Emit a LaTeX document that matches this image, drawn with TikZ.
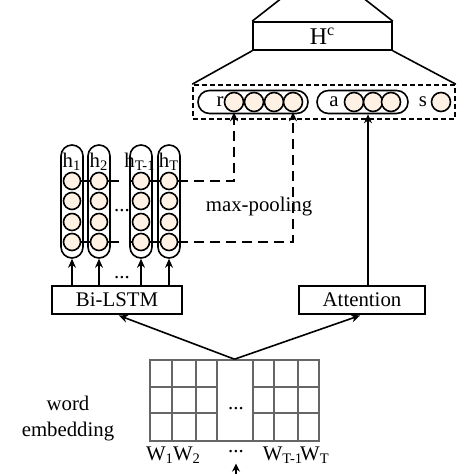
\documentclass[tikz,border=0pt]{standalone}
\usepackage{fontspec}
\setmainfont{Liberation Serif}
\usetikzlibrary{arrows.meta,positioning}
\tikzstyle{box} = [rectangle, draw=black, line width=0.8pt, minimum height=14pt, inner sep=0pt, text centered]
\tikzstyle{poolbox} = [rectangle, draw=black, line width=0.8pt, dash pattern=on 2.5pt off 1.5pt, inner sep=0pt]
\tikzstyle{vec} = [rectangle, rounded corners=5.7pt, draw=black, line width=0.8pt, minimum height=11.5pt, inner sep=0pt]
\tikzstyle{col} = [rectangle, rounded corners=5.5pt, draw=black, line width=0.8pt, minimum width=11pt, minimum height=56.5pt, inner sep=0pt]
\tikzstyle{cell} = [circle, draw=black, line width=0.8pt, fill=orange!10, minimum size=8.5pt, inner sep=0pt]
\tikzstyle{cellB} = [cell, minimum size=9.5pt]
\tikzstyle{lbl} = [inner sep=0pt]
\tikzstyle{plain} = [line width=0.8pt]
\tikzstyle{arrow} = [line width=0.8pt, -{Stealth[open, length=4.5pt, width=4pt]}]
\tikzstyle{dashline} = [dash pattern=on 5pt off 3pt]
\tikzstyle{gridline} = [draw=black!60, line width=0.8pt]

\begin{document}
\begin{tikzpicture}[x=0.5pt, y=-0.5pt, font=\fontsize{10.4}{13}\selectfont]
        \useasboundingbox (0,0) rectangle (474,474);
        \clip (0,0) rectangle (474,474);

        \node (hc) [box, minimum width=69.5pt, font=\fontsize{12}{13}\selectfont] at (322.5,36) {H\textsuperscript{c}};
        \node (pool) [poolbox, minimum width=131pt, minimum height=17pt] at (324,102) {};
        \coordinate (topL) at (292,-10);
        \coordinate (topR) at (353,-10);
        \draw [plain] (hc.north west) -- (topL);
        \draw [plain] (hc.north east) -- (topR);
        \draw [plain] (hc.south west) -- (pool.north west);
        \draw [plain] (hc.south east) -- (pool.north east);

        \node (rvec) [vec, minimum width=55pt] at (253,102) {};
        \node (avec) [vec, minimum width=45.5pt] at (362.5,102) {};
        \node (rl) [lbl] at (220,102) {r};
        \node (al) [lbl] at (334,102) {a};
        \node (sl) [lbl] at (423,102) {s};
        \foreach \i/\x in {1/234,2/254,3/274,4/293}
            \node (r\i) [cellB] at (\x,102) {};
        \foreach \i/\x in {1/354,2/373,3/391}
            \node (a\i) [cellB] at (\x,102) {};
        \node (s1) [cellB] at (441,102) {};

        \foreach \i/\x in {1/72,2/99,3/141,4/169} {
            \node (col\i) [col] at (\x,201.5) {};
            \foreach \j/\y in {1/181,2/201,3/222,4/242}
                \node (c\i\j) [cell] at (\x,\y) {};
        }
        \node (h1) [lbl] at (72,162) {h\textsubscript{1}};
        \node (h2) [lbl] at (99,162) {h\textsubscript{2}};
        \node (h3) [lbl] at (140,162) {h\textsubscript{T-1}};
        \node (h4) [lbl] at (169,162) {h\textsubscript{T}};
        \node (hdots) [lbl] at (122,211) {...};

        \foreach \j in {1,4} {
            \draw [plain] (c1\j.east) -- (c2\j.west);
            \draw [plain] (c2\j.east) -- ++(11,0);
            \draw [plain] (col3.west |- c3\j) -- (c3\j.west);
            \draw [plain] (c3\j.east) -- (c4\j.west);
        }
        \draw [arrow, dashline] (c41.east) -| (r1.south);
        \draw [arrow, dashline] (c44.east) -| (r4.south);
        \node (mp) [lbl] at (259,207) {max-pooling};

        \node (lstm) [box, minimum width=65pt] at (117,300) {Bi-LSTM};
        \node (att) [box, minimum width=63pt] at (362,300) {Attention};
        \node (ldots) [lbl] at (122,278) {...};
        \foreach \i in {1,2,3,4}
            \draw [arrow] (lstm.north -| col\i) -- (col\i.south);
        \draw [arrow] ([xshift=3pt]att.north) -- ([xshift=3pt]att.north |- avec.south);

        \node (emb) [rectangle, gridline, draw, minimum width=84.5pt, minimum height=40.5pt, inner sep=0pt] at (234.5,400.5) {};
        \foreach \x in {172,196,217,253,274,298}
            \draw [gridline] (\x,360) -- (\x,441);
        \foreach \y in {387,413} {
            \draw [gridline] (150,\y) -- (217,\y);
            \draw [gridline] (253,\y) -- (319,\y);
        }
        \node (edots) [lbl] at (236,409) {...};
        \draw [arrow, shorten >=1pt] (emb.north) -- (lstm.south);
        \draw [arrow, shorten >=1pt] (emb.north) -- (att.south);

        \node (wordemb) [lbl, align=center] at (68,419) {word\\embedding};
        \node (w1) [lbl] at (160,455) {W\textsubscript{1}};
        \node (w2) [lbl] at (187,455) {W\textsubscript{2}};
        \node (wdots) [lbl] at (236,452) {...};
        \node (wt1) [lbl] at (283,455) {W\textsubscript{T-1}};
        \node (wt) [lbl] at (315,455) {W\textsubscript{T}};
        \coordinate (below) at (236,520);
        \draw [line width=0.8pt, -{Stealth[length=4pt, width=4pt]}] (below) -- ([yshift=-5pt]wdots.south);

    \end{tikzpicture}
\end{document}
